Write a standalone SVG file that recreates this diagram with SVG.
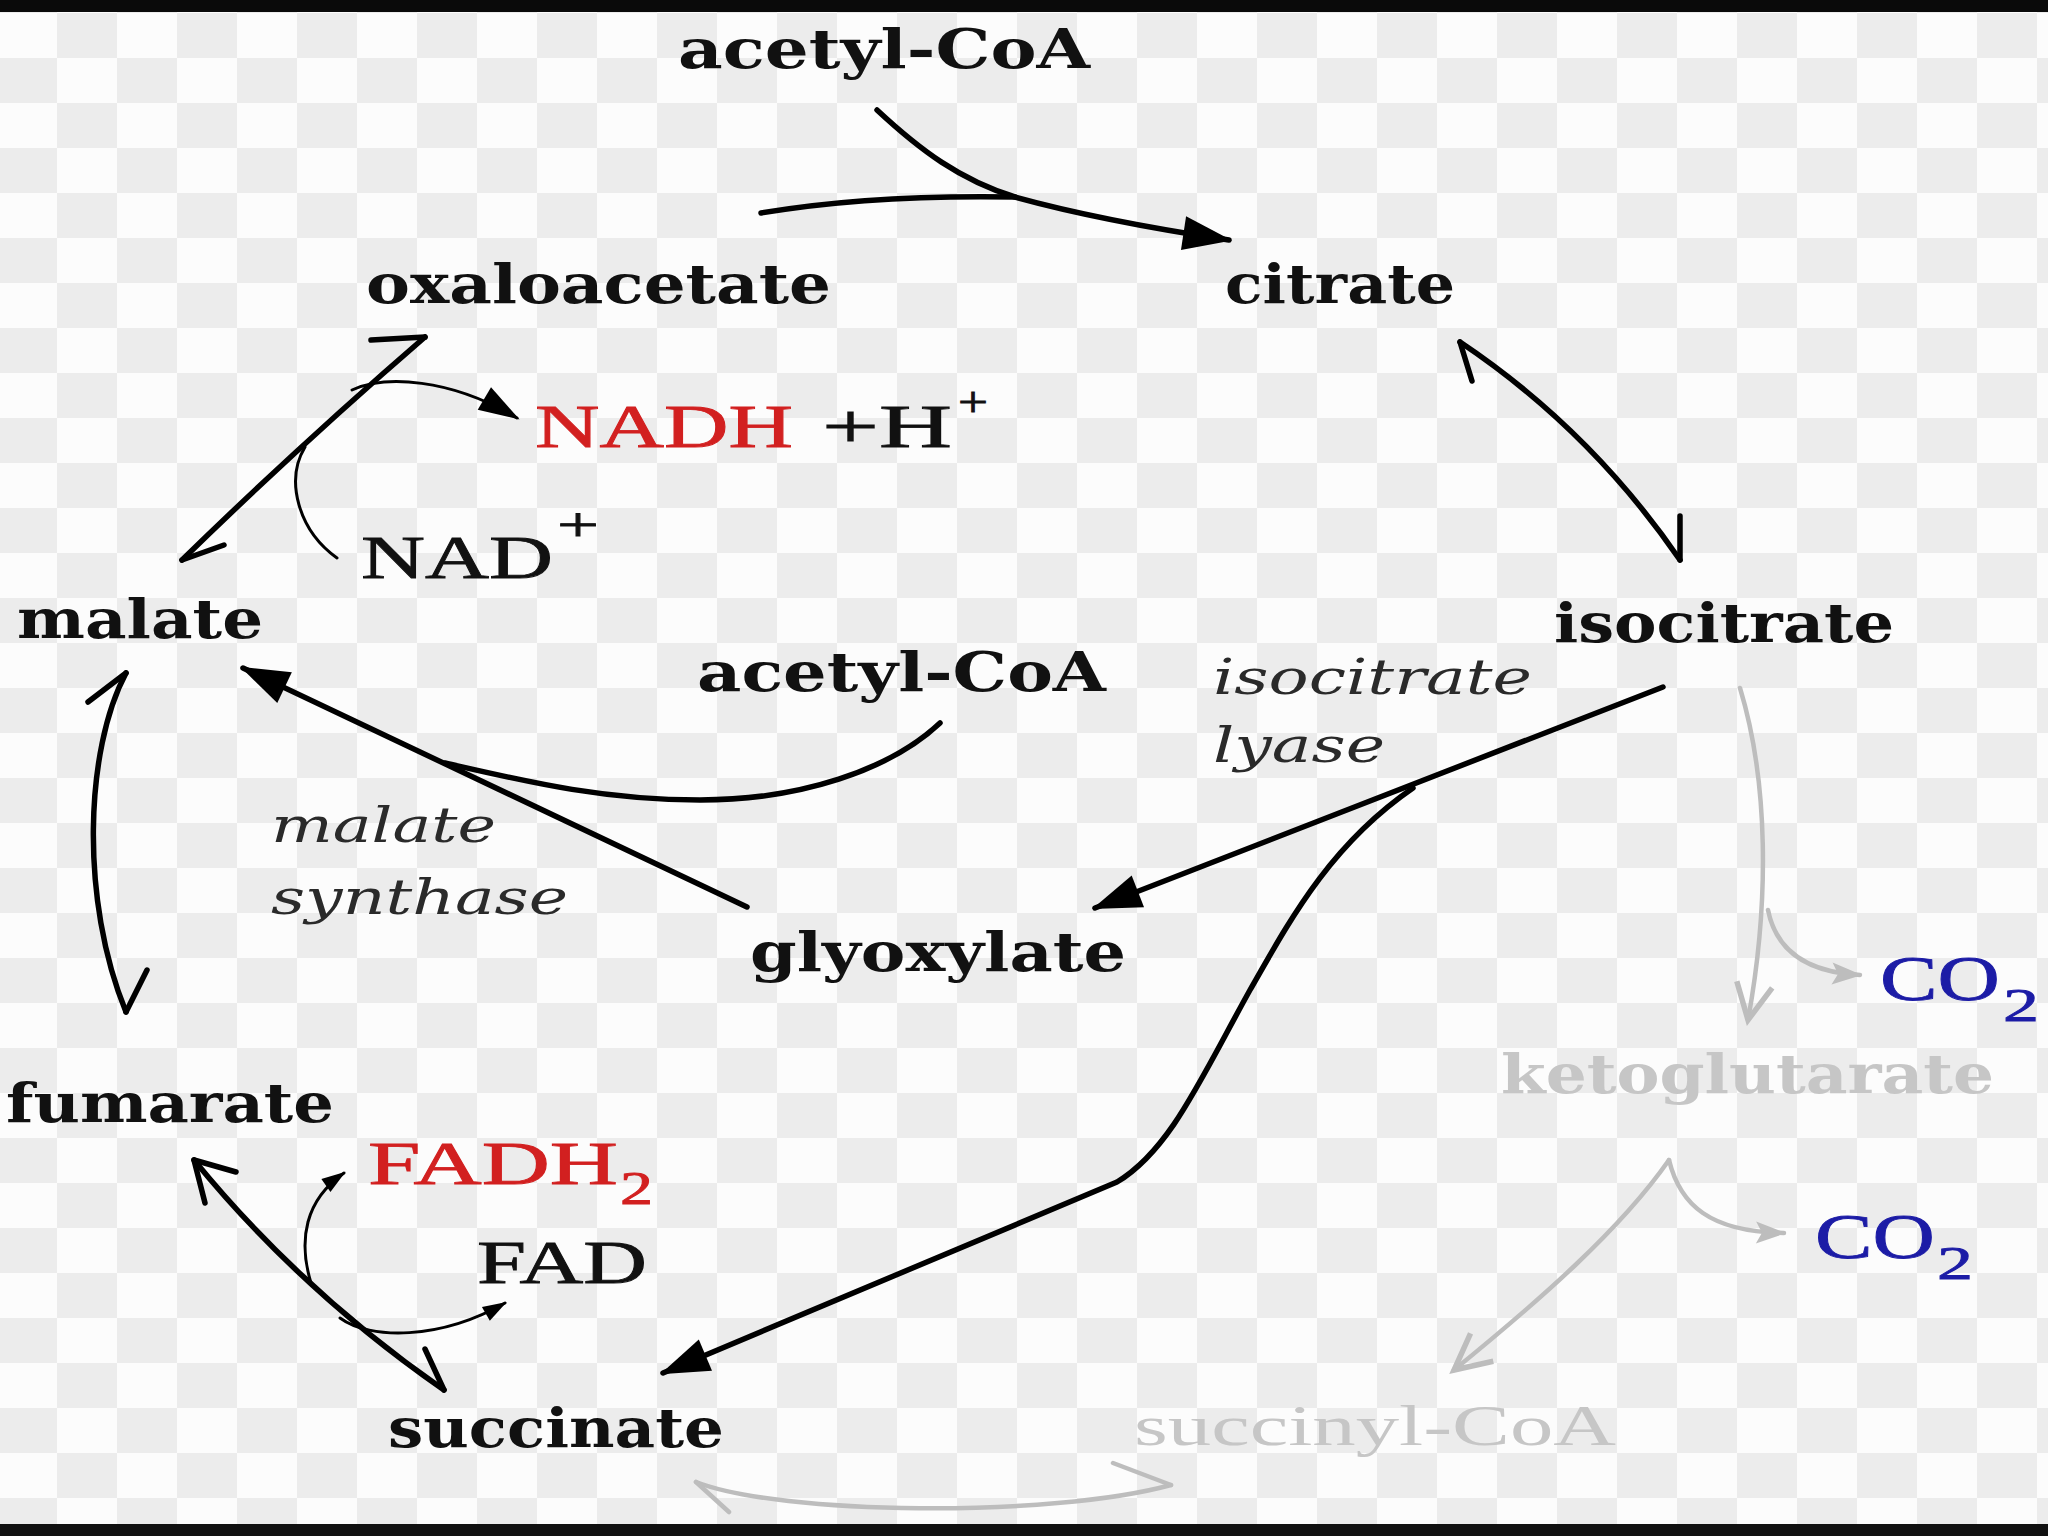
<svg xmlns="http://www.w3.org/2000/svg" width="2048" height="1536" viewBox="0 0 2048 1536">
<defs>
<pattern id="checker" x="-3" y="13" width="120" height="90" patternUnits="userSpaceOnUse">
<rect x="0" y="0" width="120" height="90" fill="#fcfcfc"/>
<rect x="60" y="0" width="60" height="45" fill="#ececec"/>
<rect x="0" y="45" width="60" height="45" fill="#ececec"/>
</pattern>
<marker id="head" viewBox="-50 -20 55 40" refX="0" refY="0" markerWidth="55" markerHeight="40" markerUnits="userSpaceOnUse" orient="auto">
<path d="M3,0 L-46,-17 L-46,17 Z" fill="#000"/>
</marker>
<marker id="headMd" viewBox="-42 -16 46 32" refX="0" refY="0" markerWidth="46" markerHeight="32" markerUnits="userSpaceOnUse" orient="auto">
<path d="M3,0 L-38,-13 L-38,13 Z" fill="#000"/>
</marker>
<marker id="headSm" viewBox="-26 -10 30 20" refX="0" refY="0" markerWidth="30" markerHeight="20" markerUnits="userSpaceOnUse" orient="auto">
<path d="M2,0 L-22,-8 L-22,8 Z" fill="#000"/>
</marker>
<marker id="grayV" viewBox="-40 -24 46 48" refX="0" refY="0" markerWidth="46" markerHeight="48" markerUnits="userSpaceOnUse" orient="auto">
<path d="M-36,-18 L0,0 L-36,18" fill="none" stroke="#bdbdbd" stroke-width="5.5"/>
</marker>
<marker id="grayHead" viewBox="-32 -14 36 28" refX="0" refY="0" markerWidth="36" markerHeight="28" markerUnits="userSpaceOnUse" orient="auto">
<path d="M2,0 L-28,-11 L-22,0 L-28,11 Z" fill="#bdbdbd"/>
</marker>
<style>
.bold{font-family:"DejaVu Serif","Liberation Serif",serif;font-weight:bold;font-size:54px;fill:#111}
.reg{font-family:"Liberation Serif","DejaVu Serif",serif;font-size:62px;fill:#111;stroke:#111;stroke-width:0.8}
.ital{font-family:"DejaVu Serif","Liberation Serif",serif;font-style:italic;font-size:48px;fill:#2a2a2a}
.red{fill:#d22020;stroke:#d22020}
.blue{fill:#1c1ca6;stroke:#1c1ca6}
.ghost{fill:#c6c6c6;stroke:none}
.ln{fill:none;stroke:#000;stroke-width:5.5;stroke-linecap:round;stroke-linejoin:round}
.thin{fill:none;stroke:#000;stroke-width:3;stroke-linecap:round}
.gl{fill:none;stroke:#bdbdbd;stroke-width:4.5;stroke-linecap:round}
</style>
</defs>
<g id="background">
<rect x="0" y="0" width="2048" height="1536" fill="url(#checker)"/>
<rect x="0" y="0" width="2048" height="12" fill="#0a0a0a"/>
<rect x="0" y="1524" width="2048" height="12" fill="#111"/>
</g>
<g id="connectors">
<path class="ln" d="M877,110 C920,150 960,180 1015,197 C1080,215 1150,228 1229,240" marker-end="url(#head)"/>
<path class="ln" d="M761,213 C820,203 900,195 1015,197"/>
<path class="ln" d="M1460,342 Q1590,429 1680,560"/>
<path class="ln" d="M1460,342 L1472,381 M1680,560 L1680,516"/>
<path class="ln" d="M425,337 Q300,445 182,560"/>
<path class="ln" d="M425,337 L371,340 M182,560 L224,545"/>
<path class="thin" d="M352,390 C385,375 450,378 517,418" marker-end="url(#headMd)"/>
<path class="thin" stroke-width="2.5" d="M337,558 C298,530 285,480 305,447"/>
<path class="ln" d="M126,673 C85,750 80,900 126,1012"/>
<path class="ln" d="M126,673 L88,702 M126,1012 L147,970"/>
<path class="ln" d="M194,1160 Q300,1290 444,1390"/>
<path class="ln" d="M205,1203 L194,1160 L236,1172 M444,1390 L425,1349"/>
<path class="thin" d="M311,1283 C298,1240 305,1200 344,1173" marker-end="url(#headSm)"/>
<path class="thin" d="M340,1318 C370,1340 440,1340 505,1303" marker-end="url(#headSm)"/>
<path class="ln" d="M1663,687 Q1390,793 1095,908" marker-end="url(#head)"/>
<path class="ln" d="M1413,788 C1330,845 1290,920 1250,990 C1200,1080 1170,1150 1117,1182 L663,1373" marker-end="url(#head)"/>
<path class="ln" d="M747,907 L243,668" marker-end="url(#head)"/>
<path class="ln" d="M940,723 C890,770 800,800 700,800 C600,800 520,780 445,763"/>
<path class="gl" d="M1740,688 C1768,780 1770,900 1748,1020" marker-end="url(#grayV)"/>
<path class="gl" stroke-width="3.5" d="M1768,910 C1775,945 1800,972 1860,975" marker-end="url(#grayHead)"/>
<path class="gl" d="M1669,1160 C1620,1230 1540,1300 1454,1370" marker-end="url(#grayV)"/>
<path class="gl" stroke-width="3.5" d="M1669,1160 C1680,1205 1710,1232 1784,1233" marker-end="url(#grayHead)"/>
<path class="gl" d="M696,1482 C780,1515 1050,1518 1171,1485"/>
<path class="gl" d="M696,1482 L729,1512 M1171,1485 L1113,1463"/>
</g>
<g id="node-acetyl-coa-top"><text class="bold" x="678" y="68" textLength="412" lengthAdjust="spacingAndGlyphs">acetyl-CoA</text></g>
<g id="node-oxaloacetate"><text class="bold" x="366" y="303" textLength="465" lengthAdjust="spacingAndGlyphs">oxaloacetate</text></g>
<g id="node-citrate"><text class="bold" x="1225" y="303" textLength="230" lengthAdjust="spacingAndGlyphs">citrate</text></g>
<g id="node-nadh"><text class="reg red" x="535" y="447" textLength="258" lengthAdjust="spacingAndGlyphs">NADH</text><text class="reg" x="822" y="447" textLength="130" lengthAdjust="spacingAndGlyphs">+H</text><text class="reg" x="958" y="416" style="font-size:42px" textLength="30" lengthAdjust="spacingAndGlyphs">+</text></g>
<g id="node-nad"><text class="reg" x="361" y="578" textLength="192" lengthAdjust="spacingAndGlyphs">NAD</text><text class="reg" x="557" y="541" style="font-size:48px" textLength="42" lengthAdjust="spacingAndGlyphs">+</text></g>
<g id="node-malate"><text class="bold" x="17" y="638" textLength="246" lengthAdjust="spacingAndGlyphs">malate</text></g>
<g id="node-isocitrate"><text class="bold" x="1554" y="642" textLength="340" lengthAdjust="spacingAndGlyphs">isocitrate</text></g>
<g id="node-acetyl-coa-mid"><text class="bold" x="697" y="691" textLength="409" lengthAdjust="spacingAndGlyphs">acetyl-CoA</text></g>
<g id="label-isocitrate-lyase"><text class="ital" x="1213" y="694" textLength="319" lengthAdjust="spacingAndGlyphs">isocitrate</text><text class="ital" x="1213" y="762" textLength="172" lengthAdjust="spacingAndGlyphs">lyase</text></g>
<g id="label-malate-synthase"><text class="ital" x="271" y="842" textLength="225" lengthAdjust="spacingAndGlyphs">malate</text><text class="ital" x="271" y="914" textLength="297" lengthAdjust="spacingAndGlyphs">synthase</text></g>
<g id="node-glyoxylate"><text class="bold" x="750" y="971" textLength="376" lengthAdjust="spacingAndGlyphs">glyoxylate</text></g>
<g id="node-co2-upper"><text class="reg blue" x="1880" y="1000" style="font-size:64px" textLength="120" lengthAdjust="spacingAndGlyphs">CO</text><text class="reg blue" x="2003" y="1021" style="font-size:46px" textLength="36" lengthAdjust="spacingAndGlyphs">2</text></g>
<g id="node-ketoglutarate"><text class="bold ghost" x="1501" y="1093" textLength="493" lengthAdjust="spacingAndGlyphs">ketoglutarate</text></g>
<g id="node-fumarate"><text class="bold" x="6" y="1122" textLength="328" lengthAdjust="spacingAndGlyphs">fumarate</text></g>
<g id="node-fadh2"><text class="reg red" x="368" y="1184" textLength="250" lengthAdjust="spacingAndGlyphs">FADH</text><text class="reg red" x="620" y="1204" style="font-size:46px" textLength="33" lengthAdjust="spacingAndGlyphs">2</text></g>
<g id="node-fad"><text class="reg" x="477" y="1283" textLength="170" lengthAdjust="spacingAndGlyphs">FAD</text></g>
<g id="node-co2-lower"><text class="reg blue" x="1815" y="1258" style="font-size:64px" textLength="120" lengthAdjust="spacingAndGlyphs">CO</text><text class="reg blue" x="1937" y="1279" style="font-size:46px" textLength="36" lengthAdjust="spacingAndGlyphs">2</text></g>
<g id="node-succinate"><text class="bold" x="388" y="1447" textLength="336" lengthAdjust="spacingAndGlyphs">succinate</text></g>
<g id="node-succinyl-coa"><text class="reg ghost" x="1134" y="1445" style="font-size:58px" textLength="482" lengthAdjust="spacingAndGlyphs">succinyl-CoA</text></g>
</svg>
